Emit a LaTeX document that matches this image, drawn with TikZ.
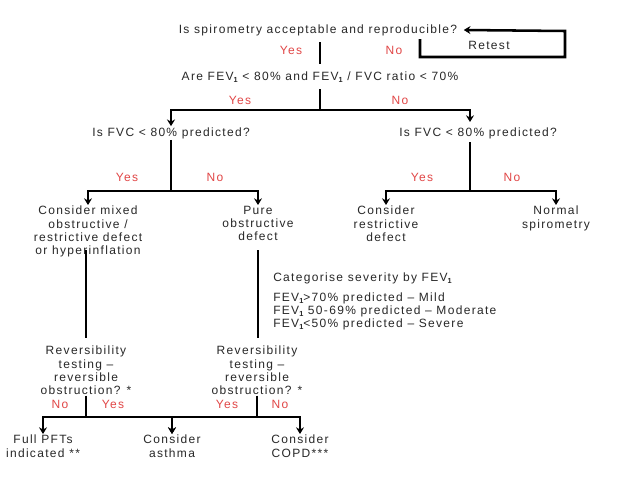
\documentclass[tikz,border=0pt]{standalone}
\usepackage{fontspec}
\setmainfont{Liberation Sans}[LetterSpace=11]
\usetikzlibrary{arrows.meta}
\definecolor{ansred}{RGB}{225,70,70}
\definecolor{txtgrey}{RGB}{40,40,40}
\tikzset{>={Stealth[length=5pt,width=6pt]}}
\newcommand{\one}{\raisebox{-1.5pt}{\fontsize{5.5}{6}\selectfont\bfseries 1}}

\begin{document}
\begin{tikzpicture}[x=0.75pt,y=-0.75pt,
		line width=1.9pt, line join=miter,
		box/.style={align=center, inner sep=0pt, text=txtgrey,
			font=\fontsize{9}{9.8}\selectfont},
		ans/.style={inner sep=0pt, text=ansred,
			font=\fontsize{9}{9.8}\selectfont}]
	\useasboundingbox[fill=white] (0,0) rectangle (638,479);

	% questions and outcomes
	\node[box] (spiro) at (318,30) {Is spirometry acceptable and reproducible?};
	\node[box] (retest) at (489,45) {Retest};
	\node[box] (ratio) at (320,77) {Are FEV\one\ < 80\% and FEV\one\ / FVC ratio < 70\%};
	\node[box] (fvcL) at (171,133) {Is FVC < 80\% predicted?};
	\node[box] (fvcR) at (478,133) {Is FVC < 80\% predicted?};
	\node[box,anchor=north] (mixed) at (88,205) {Consider mixed\\obstructive /\\restrictive defect\\or hyperinflation};
	\node[box,anchor=north] (pure) at (258,205) {Pure\\obstructive\\defect};
	\node[box,anchor=north] (restr) at (386,205) {Consider\\restrictive\\defect};
	\node[box,anchor=north] (normal) at (556,205) {Normal\\spirometry};
	\node[box,align=left,anchor=north west] (sev) at (272,272)
		{Categorise severity by FEV\one\\[5pt]
		 FEV\one>70\% predicted -- Mild\\
		 FEV\one\ 50-69\% predicted -- Moderate\\
		 FEV\one<50\% predicted -- Severe};
	\node[box,anchor=north] (revL) at (86,345) {Reversibility\\testing --\\reversible\\obstruction? *};
	\node[box,anchor=north] (revR) at (257,345) {Reversibility\\testing --\\reversible\\obstruction? *};
	\node[box,anchor=north] (pft) at (43,434) {Full PFTs\\indicated **};
	\node[box,anchor=north] (asthma) at (172,434) {Consider\\asthma};
	\node[box,anchor=north] (copd) at (300,434) {Consider\\COPD***};

	% answers
	\node[ans] (y1) at (291,50) {Yes};
	\node[ans] (n1) at (394,50) {No};
	\node[ans] (y2) at (240,100) {Yes};
	\node[ans] (n2) at (400,100) {No};
	\node[ans] (y3) at (127,177) {Yes};
	\node[ans] (n3) at (215,177) {No};
	\node[ans] (y4) at (422,177) {Yes};
	\node[ans] (n4) at (512,177) {No};
	\node[ans] (n5) at (60,404) {No};
	\node[ans] (y5) at (113,404) {Yes};
	\node[ans] (y6) at (227,404) {Yes};
	\node[ans] (n6) at (280,404) {No};

	% junctions
	\coordinate (j1) at (320,110);
	\coordinate (j2) at (171,191);
	\coordinate (j3) at (470,191);
	\coordinate (j4) at (86,417);
	\coordinate (j5) at (257,417);

	% retest loop
	\draw[->] (420,39) -- (420,57) -- (565,57) -- (565,31) -- ([xshift=4pt]spiro.east);
	\draw (320,42) -- (320,64);

	% first split
	\draw (320,89) -- (j1);
	\draw[->] (j1) -| (fvcL);
	\draw[->] (j1) -| (470,122);

	% second splits
	\draw (fvcL) -- (j2);
	\draw[->] (j2) -| (mixed);
	\draw[->] (j2) -| (pure);
	\draw (470,142) -- (j3);
	\draw[->] (j3) -| (restr);
	\draw[->] (j3) -| (normal);

	% down to reversibility
	\draw (86,250) -- (86,338);
	\draw (258,250) -- (258,338);

	% bottom splits
	\draw (revL) -- (j4);
	\draw (revR) -- (j5);
	\draw[->] (j4) -| (pft);
	\draw[->] (j4) -| (asthma);
	\draw[->] (j5) -| (asthma);
	\draw[->] (j5) -| (copd);
\end{tikzpicture}
\end{document}
